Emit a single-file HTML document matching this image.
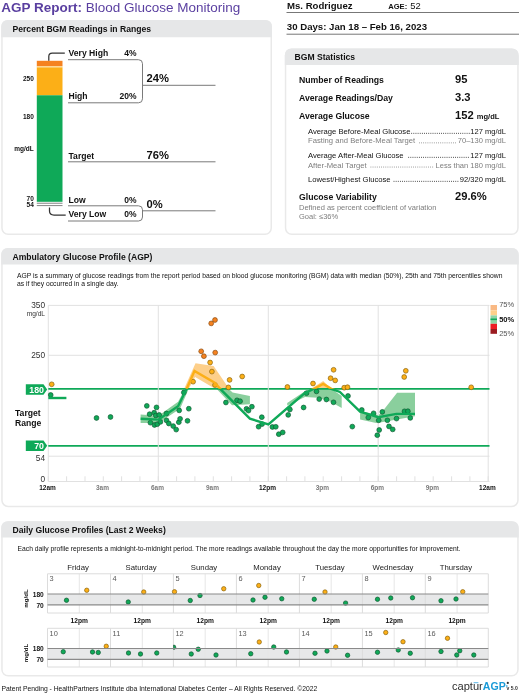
<!DOCTYPE html>
<html><head><meta charset="utf-8"><title>AGP Report</title>
<style>
html,body{margin:0;padding:0;background:#fff;}
body{width:520px;height:695px;overflow:hidden;}
svg{display:block;font-family:"Liberation Sans",Arial,sans-serif;}
.b{font-weight:bold}
</style></head><body>
<svg width="520" height="695" viewBox="0 0 520 695">

<text x="1.2" y="12" font-size="13.5" fill="#5a3fa0"><tspan class="b">AGP Report:</tspan> Blood Glucose Monitoring</text>
<rect x="1.95" y="20.75" width="269.3" height="213.5" rx="6.25" ry="6.25" fill="#fff" stroke="#e9e9e9" stroke-width="1.5"/><path d="M1.2,37.2 V27 Q1.2,20 8.2,20 H265 Q272,20 272,27 V37.2 Z" fill="#e6e7e8"/><text x="12.5" y="31.9" font-size="8.6" class="b" fill="#111">Percent BGM Readings in Ranges</text>
<rect x="36.8" y="60.8" width="25.7" height="5.4" fill="#f58220"/>
<rect x="36.8" y="66" width="25.7" height="2" fill="#fdd795"/><rect x="36.8" y="67.6" width="25.7" height="27.8" fill="#fcaf17"/>
<rect x="36.8" y="95.3" width="25.7" height="106.5" fill="#0fa958"/>
<rect x="36.8" y="202.7" width="25.7" height="1.1" fill="#8f8f8f"/>
<rect x="36.8" y="205" width="25.7" height="1.1" fill="#8f8f8f"/>
<text x="33.8" y="80.5" font-size="6.5" class="b" fill="#111" text-anchor="end">250</text>
<text x="33.8" y="118.8" font-size="6.5" class="b" fill="#111" text-anchor="end">180</text>
<text x="33.8" y="150.5" font-size="6.5" class="b" fill="#111" text-anchor="end">mg/dL</text>
<text x="33.8" y="200.6" font-size="6.5" class="b" fill="#111" text-anchor="end">70</text>
<text x="33.8" y="206.8" font-size="6.5" class="b" fill="#111" text-anchor="end">54</text>
<text x="68.5" y="55.5" font-size="8.6" class="b" fill="#111">Very High</text>
<text x="136.5" y="55.5" font-size="8.5" class="b" fill="#111" text-anchor="end">4%</text>
<text x="68.5" y="98.8" font-size="8.6" class="b" fill="#111">High</text>
<text x="136.5" y="98.8" font-size="8.5" class="b" fill="#111" text-anchor="end">20%</text>
<text x="68.5" y="158.8" font-size="8.6" class="b" fill="#111">Target</text>
<text x="68.5" y="202.5" font-size="8.6" class="b" fill="#111">Low</text>
<text x="136.5" y="202.5" font-size="8.5" class="b" fill="#111" text-anchor="end">0%</text>
<text x="68.5" y="217" font-size="8.6" class="b" fill="#111">Very Low</text>
<text x="136.5" y="217" font-size="8.5" class="b" fill="#111" text-anchor="end">0%</text>
<path d="M68,59.7 H138.5 Q142.5,59.7 142.5,63.7 V98.8 Q142.5,102.8 138.5,102.8 H68" stroke="#7a7a7a" stroke-width="1" fill="none"/>
<path d="M142.5,85.3 H215.5" stroke="#7a7a7a" stroke-width="1" fill="none"/>
<path d="M68,161.8 H215.5" stroke="#7a7a7a" stroke-width="1" fill="none"/>
<path d="M68,205.8 H138.5 Q142.5,205.8 142.5,209.8 V217 Q142.5,221 138.5,221 H68" stroke="#7a7a7a" stroke-width="1" fill="none"/>
<path d="M142.5,210.8 H215.5" stroke="#7a7a7a" stroke-width="1" fill="none"/>
<path d="M48.8,60.8 V56.5 Q48.8,53.2 52.2,53.2 H64.8" stroke="#333" stroke-width="1.25" fill="none"/>
<path d="M49.5,207.5 V211 Q49.5,215 54,215 H65.7" stroke="#333" stroke-width="1.25" fill="none"/>
<text x="146.5" y="81.8" font-size="11.2" class="b" fill="#111">24%</text>
<text x="146.5" y="158.6" font-size="11.2" class="b" fill="#111">76%</text>
<text x="146.5" y="207.5" font-size="11.2" class="b" fill="#111">0%</text>
<text x="287" y="9" font-size="9.6" class="b" fill="#111">Ms. Rodriguez</text>
<text x="388.2" y="9" font-size="7.6" class="b" fill="#111">AGE:</text>
<text x="410.2" y="9" font-size="9.4" fill="#111">52</text>
<rect x="286.5" y="12" width="232.5" height="1" fill="#777"/>
<text x="286.8" y="29.8" font-size="9.65" class="b" fill="#111">30 Days: Jan 18 – Feb 16, 2023</text>
<rect x="286.5" y="33.7" width="232.5" height="1" fill="#777"/>
<rect x="285.55" y="49.15" width="232.40000000000003" height="185.1" rx="6.25" ry="6.25" fill="#fff" stroke="#e9e9e9" stroke-width="1.5"/><path d="M284.8,65 V55.4 Q284.8,48.4 291.8,48.4 H511.70000000000005 Q518.7,48.4 518.7,55.4 V65 Z" fill="#e6e7e8"/><text x="294.5" y="59.7" font-size="8.6" class="b" fill="#111">BGM Statistics</text>
<text x="299" y="82.5" font-size="8.7" class="b" fill="#111">Number of Readings</text>
<text x="455" y="82.5" font-size="11.2" class="b" fill="#111">95</text>
<text x="299" y="101.1" font-size="8.7" class="b" fill="#111">Average Readings/Day</text>
<text x="455" y="101.1" font-size="11.2" class="b" fill="#111">3.3</text>
<text x="299" y="119.3" font-size="8.7" class="b" fill="#111">Average Glucose</text>
<text x="455" y="119.3" font-size="11.2" class="b" fill="#111">152</text>
<text x="299" y="200" font-size="8.7" class="b" fill="#111">Glucose Variability</text>
<text x="455" y="200" font-size="11.2" class="b" fill="#111">29.6%</text>
<text x="476.8" y="119.3" font-size="7.5" class="b" fill="#111">mg/dL</text>
<text x="308" y="133.8" font-size="7.67" fill="#111">Average Before-Meal Glucose</text><text x="506" y="133.8" font-size="7.55" fill="#111" text-anchor="end">127 mg/dL</text><line x1="411.3" y1="133.35000000000002" x2="470" y2="133.35000000000002" stroke="#111" stroke-width="0.9" stroke-dasharray="0.8 1.33"/>
<text x="308" y="143.3" font-size="7.67" fill="#7d7d7d">Fasting and Before-Meal Target</text><text x="506" y="143.3" font-size="7.55" fill="#7d7d7d" text-anchor="end">70–130 mg/dL</text><line x1="419" y1="142.85000000000002" x2="457.3" y2="142.85000000000002" stroke="#7d7d7d" stroke-width="0.9" stroke-dasharray="0.8 1.33"/>
<text x="308" y="157.8" font-size="7.67" fill="#111">Average After-Meal Glucose</text><text x="506" y="157.8" font-size="7.55" fill="#111" text-anchor="end">127 mg/dL</text><line x1="408.3" y1="157.35000000000002" x2="470" y2="157.35000000000002" stroke="#111" stroke-width="0.9" stroke-dasharray="0.8 1.33"/>
<text x="308" y="167.5" font-size="7.67" fill="#7d7d7d">After-Meal Target</text><text x="506" y="167.5" font-size="7.55" fill="#7d7d7d" text-anchor="end">Less than 180 mg/dL</text><line x1="370.5" y1="167.05" x2="433.5" y2="167.05" stroke="#7d7d7d" stroke-width="0.9" stroke-dasharray="0.8 1.33"/>
<text x="308" y="181.8" font-size="7.67" fill="#111">Lowest/Highest Glucose</text><text x="506" y="181.8" font-size="7.55" fill="#111" text-anchor="end">92/320 mg/dL</text><line x1="393.6" y1="181.35000000000002" x2="459.3" y2="181.35000000000002" stroke="#111" stroke-width="0.9" stroke-dasharray="0.8 1.33"/>
<text x="299" y="209.5" font-size="7.5" fill="#7d7d7d">Defined as percent coefficient of variation</text>
<text x="299" y="218.8" font-size="7.5" fill="#7d7d7d">Goal: ≤36%</text>
<rect x="1.95" y="248.85" width="516.0" height="257.6" rx="6.25" ry="6.25" fill="#fff" stroke="#e9e9e9" stroke-width="1.5"/><path d="M1.2,264.6 V255.1 Q1.2,248.1 8.2,248.1 H511.70000000000005 Q518.7,248.1 518.7,255.1 V264.6 Z" fill="#e6e7e8"/><text x="12.5" y="260" font-size="8.6" class="b" fill="#111">Ambulatory Glucose Profile (AGP)</text>
<text x="17" y="277.5" font-size="6.76" fill="#111">AGP is a summary of glucose readings from the report period based on blood glucose monitoring (BGM) data with median (50%), 25th and 75th percentiles shown</text>
<text x="17" y="286.3" font-size="6.76" fill="#111">as if they occurred in a single day.</text>
<path d="M48.3,305.4 H489.5" stroke="#e1e1e1" stroke-width="1" fill="none"/>
<path d="M48.3,355.3 H489.5" stroke="#e1e1e1" stroke-width="1" fill="none"/>
<path d="M48.3,456.2 H489.5" stroke="#e1e1e1" stroke-width="1" fill="none"/>
<path d="M48.3,305.4 V481.5" stroke="#e1e1e1" stroke-width="1" fill="none"/>
<path d="M158.3,305.4 V481.5" stroke="#e1e1e1" stroke-width="1" fill="none"/>
<path d="M268.3,305.4 V481.5" stroke="#e1e1e1" stroke-width="1" fill="none"/>
<path d="M378.2,305.4 V481.5" stroke="#e1e1e1" stroke-width="1" fill="none"/>
<path d="M488.2,305.4 V481.5" stroke="#e1e1e1" stroke-width="1" fill="none"/>
<path d="M48.3,481.5 H489.5" stroke="#e1e1e1" stroke-width="1" fill="none"/>
<path d="M48.3,476.3 V481.5" stroke="#e1e1e1" stroke-width="1" fill="none"/>
<path d="M66.6,476.3 V481.5" stroke="#e1e1e1" stroke-width="1" fill="none"/>
<path d="M85.0,476.3 V481.5" stroke="#e1e1e1" stroke-width="1" fill="none"/>
<path d="M103.3,476.3 V481.5" stroke="#e1e1e1" stroke-width="1" fill="none"/>
<path d="M121.6,476.3 V481.5" stroke="#e1e1e1" stroke-width="1" fill="none"/>
<path d="M139.9,476.3 V481.5" stroke="#e1e1e1" stroke-width="1" fill="none"/>
<path d="M158.3,476.3 V481.5" stroke="#e1e1e1" stroke-width="1" fill="none"/>
<path d="M176.6,476.3 V481.5" stroke="#e1e1e1" stroke-width="1" fill="none"/>
<path d="M194.9,476.3 V481.5" stroke="#e1e1e1" stroke-width="1" fill="none"/>
<path d="M213.3,476.3 V481.5" stroke="#e1e1e1" stroke-width="1" fill="none"/>
<path d="M231.6,476.3 V481.5" stroke="#e1e1e1" stroke-width="1" fill="none"/>
<path d="M249.9,476.3 V481.5" stroke="#e1e1e1" stroke-width="1" fill="none"/>
<path d="M268.3,476.3 V481.5" stroke="#e1e1e1" stroke-width="1" fill="none"/>
<path d="M286.6,476.3 V481.5" stroke="#e1e1e1" stroke-width="1" fill="none"/>
<path d="M304.9,476.3 V481.5" stroke="#e1e1e1" stroke-width="1" fill="none"/>
<path d="M323.2,476.3 V481.5" stroke="#e1e1e1" stroke-width="1" fill="none"/>
<path d="M341.6,476.3 V481.5" stroke="#e1e1e1" stroke-width="1" fill="none"/>
<path d="M359.9,476.3 V481.5" stroke="#e1e1e1" stroke-width="1" fill="none"/>
<path d="M378.2,476.3 V481.5" stroke="#e1e1e1" stroke-width="1" fill="none"/>
<path d="M396.6,476.3 V481.5" stroke="#e1e1e1" stroke-width="1" fill="none"/>
<path d="M414.9,476.3 V481.5" stroke="#e1e1e1" stroke-width="1" fill="none"/>
<path d="M433.2,476.3 V481.5" stroke="#e1e1e1" stroke-width="1" fill="none"/>
<path d="M451.6,476.3 V481.5" stroke="#e1e1e1" stroke-width="1" fill="none"/>
<path d="M469.9,476.3 V481.5" stroke="#e1e1e1" stroke-width="1" fill="none"/>
<path d="M488.2,476.3 V481.5" stroke="#e1e1e1" stroke-width="1" fill="none"/>
<text x="45" y="308.3" font-size="8.3" fill="#333" text-anchor="end">350</text>
<text x="45" y="358.2" font-size="8.3" fill="#333" text-anchor="end">250</text>
<text x="45" y="461.3" font-size="8.3" fill="#333" text-anchor="end">54</text>
<text x="45" y="482.2" font-size="8.3" fill="#333" text-anchor="end">0</text>
<text x="45" y="316.1" font-size="6.6" fill="#333" text-anchor="end">mg/dL</text>
<text x="47.5" y="490.3" font-size="6.5" text-anchor="middle" fill="#111" class="b">12am</text>
<text x="102.5" y="490.3" font-size="6.5" text-anchor="middle" fill="#7a7a7a" class="b">3am</text>
<text x="157.5" y="490.3" font-size="6.5" text-anchor="middle" fill="#7a7a7a" class="b">6am</text>
<text x="212.5" y="490.3" font-size="6.5" text-anchor="middle" fill="#7a7a7a" class="b">9am</text>
<text x="267.5" y="490.3" font-size="6.5" text-anchor="middle" fill="#111" class="b">12pm</text>
<text x="322.4" y="490.3" font-size="6.5" text-anchor="middle" fill="#7a7a7a" class="b">3pm</text>
<text x="377.4" y="490.3" font-size="6.5" text-anchor="middle" fill="#7a7a7a" class="b">6pm</text>
<text x="432.4" y="490.3" font-size="6.5" text-anchor="middle" fill="#7a7a7a" class="b">9pm</text>
<text x="487.4" y="490.3" font-size="6.5" text-anchor="middle" fill="#111" class="b">12am</text>
<path d="M140.6,414.4 L158.5,415.8 L178.1,401.7 L185,388.8 L188.8,388.8 L180,408.8 L158.5,423 L140.6,423 Z" fill="#8acf9d"/>
<path d="M216.5,388.8 L228.6,388.8 L232.6,392.6 L249.9,396.1 L249.9,404.2 L232,405.3 Z" fill="#8acf9d"/>
<path d="M287.2,403 L304.5,391.5 L311,388.8 L331.3,388.8 L341.7,396 L341.7,408.1 L330.7,401.8 L318,397.7 L305,396.9 L287.2,405.5 Z" fill="#8acf9d"/>
<path d="M360.1,411 L378.3,415 L381.2,412.9 L397.1,392.7 L415,392.7 L415,416.3 L381.6,422.3 L376.2,423 L360.1,419.4 Z" fill="#8acf9d"/>
<path d="M184.2,388.8 L195.5,363.2 L213.6,366.1 L227.4,386.3 L228.6,388.8 L216.5,388.8 L213,387.4 L195.1,377 L188.8,388.8 Z" fill="#fdcf8a"/>
<path d="M311,388.8 L323.2,381 L331.3,388.8 Z" fill="#fdcf8a"/>
<path d="M48.3,388.8 H489.5" stroke="#0fa958" stroke-width="1.7" fill="none"/>
<path d="M48.3,445.8 H489.5" stroke="#0fa958" stroke-width="1.7" fill="none"/>
<path d="M158.3,386 V449" stroke="#e1e1e1" stroke-width="1" fill="none"/>
<path d="M268.3,386 V449" stroke="#e1e1e1" stroke-width="1" fill="none"/>
<path d="M378.2,386 V449" stroke="#e1e1e1" stroke-width="1" fill="none"/>
<path d="M25.8,384.3 H43.5 L47.2,389.5 L43.5,394.7 H25.8 Z" fill="#0fa958"/>
<text x="44" y="392.7" font-size="8.8" class="b" fill="#fff" text-anchor="end">180</text>
<path d="M25.8,440.5 H43.5 L47.2,445.7 L43.5,450.9 H25.8 Z" fill="#0fa958"/>
<text x="44" y="448.9" font-size="8.8" class="b" fill="#fff" text-anchor="end">70</text>
<text x="15" y="416" font-size="8.6" class="b" fill="#111">Target</text>
<text x="15" y="426.3" font-size="8.6" class="b" fill="#111">Range</text>
<circle cx="215" cy="320" r="2.4" fill="#f58220" stroke="#8a4a10" stroke-width="0.7"/>
<circle cx="211.2" cy="323.4" r="2.4" fill="#f58220" stroke="#8a4a10" stroke-width="0.7"/>
<circle cx="201.2" cy="351.3" r="2.4" fill="#f58220" stroke="#8a4a10" stroke-width="0.7"/>
<circle cx="203.9" cy="356.2" r="2.4" fill="#f58220" stroke="#8a4a10" stroke-width="0.7"/>
<circle cx="215.2" cy="352.6" r="2.4" fill="#f58220" stroke="#8a4a10" stroke-width="0.7"/>
<circle cx="210.1" cy="362.5" r="2.4" fill="#fcaf17" stroke="#8a6410" stroke-width="0.7"/>
<circle cx="211.9" cy="371.6" r="2.4" fill="#fcaf17" stroke="#8a6410" stroke-width="0.7"/>
<circle cx="193.1" cy="381.7" r="2.4" fill="#fcaf17" stroke="#8a6410" stroke-width="0.7"/>
<circle cx="215" cy="385" r="2.4" fill="#fcaf17" stroke="#8a6410" stroke-width="0.7"/>
<circle cx="229.6" cy="379.9" r="2.4" fill="#fcaf17" stroke="#8a6410" stroke-width="0.7"/>
<circle cx="228.4" cy="387.4" r="2.4" fill="#fcaf17" stroke="#8a6410" stroke-width="0.7"/>
<circle cx="242.2" cy="376.5" r="2.4" fill="#fcaf17" stroke="#8a6410" stroke-width="0.7"/>
<circle cx="51.7" cy="384.3" r="2.4" fill="#fcaf17" stroke="#8a6410" stroke-width="0.7"/>
<circle cx="287.4" cy="387" r="2.4" fill="#fcaf17" stroke="#8a6410" stroke-width="0.7"/>
<circle cx="313" cy="383.5" r="2.4" fill="#fcaf17" stroke="#8a6410" stroke-width="0.7"/>
<circle cx="333.6" cy="369.8" r="2.4" fill="#fcaf17" stroke="#8a6410" stroke-width="0.7"/>
<circle cx="330.6" cy="378.2" r="2.4" fill="#fcaf17" stroke="#8a6410" stroke-width="0.7"/>
<circle cx="335.2" cy="380.4" r="2.4" fill="#fcaf17" stroke="#8a6410" stroke-width="0.7"/>
<circle cx="344.2" cy="387.7" r="2.4" fill="#fcaf17" stroke="#8a6410" stroke-width="0.7"/>
<circle cx="347.5" cy="387.2" r="2.4" fill="#fcaf17" stroke="#8a6410" stroke-width="0.7"/>
<circle cx="405.8" cy="370.8" r="2.4" fill="#fcaf17" stroke="#8a6410" stroke-width="0.7"/>
<circle cx="404.2" cy="377" r="2.4" fill="#fcaf17" stroke="#8a6410" stroke-width="0.7"/>
<circle cx="471.2" cy="387.3" r="2.4" fill="#fcaf17" stroke="#8a6410" stroke-width="0.7"/>
<circle cx="50.7" cy="395" r="2.4" fill="#0fa958" stroke="#125a33" stroke-width="0.7"/>
<circle cx="96.5" cy="418" r="2.4" fill="#0fa958" stroke="#125a33" stroke-width="0.7"/>
<circle cx="110.5" cy="417" r="2.4" fill="#0fa958" stroke="#125a33" stroke-width="0.7"/>
<circle cx="146.8" cy="405.9" r="2.4" fill="#0fa958" stroke="#125a33" stroke-width="0.7"/>
<circle cx="156.5" cy="407.4" r="2.4" fill="#0fa958" stroke="#125a33" stroke-width="0.7"/>
<circle cx="149.6" cy="414.2" r="2.4" fill="#0fa958" stroke="#125a33" stroke-width="0.7"/>
<circle cx="154.2" cy="412.7" r="2.4" fill="#0fa958" stroke="#125a33" stroke-width="0.7"/>
<circle cx="155.8" cy="415.5" r="2.4" fill="#0fa958" stroke="#125a33" stroke-width="0.7"/>
<circle cx="159.2" cy="415" r="2.4" fill="#0fa958" stroke="#125a33" stroke-width="0.7"/>
<circle cx="150.4" cy="422.7" r="2.4" fill="#0fa958" stroke="#125a33" stroke-width="0.7"/>
<circle cx="154.5" cy="425" r="2.4" fill="#0fa958" stroke="#125a33" stroke-width="0.7"/>
<circle cx="157.3" cy="424.2" r="2.4" fill="#0fa958" stroke="#125a33" stroke-width="0.7"/>
<circle cx="160.4" cy="421.9" r="2.4" fill="#0fa958" stroke="#125a33" stroke-width="0.7"/>
<circle cx="166.5" cy="413.5" r="2.4" fill="#0fa958" stroke="#125a33" stroke-width="0.7"/>
<circle cx="166.5" cy="420.4" r="2.4" fill="#0fa958" stroke="#125a33" stroke-width="0.7"/>
<circle cx="168.8" cy="423.5" r="2.4" fill="#0fa958" stroke="#125a33" stroke-width="0.7"/>
<circle cx="173.2" cy="426.1" r="2.4" fill="#0fa958" stroke="#125a33" stroke-width="0.7"/>
<circle cx="176.2" cy="429.6" r="2.4" fill="#0fa958" stroke="#125a33" stroke-width="0.7"/>
<circle cx="178.8" cy="422.2" r="2.4" fill="#0fa958" stroke="#125a33" stroke-width="0.7"/>
<circle cx="180.1" cy="418.8" r="2.4" fill="#0fa958" stroke="#125a33" stroke-width="0.7"/>
<circle cx="179.2" cy="410.4" r="2.4" fill="#0fa958" stroke="#125a33" stroke-width="0.7"/>
<circle cx="188.8" cy="408.7" r="2.4" fill="#0fa958" stroke="#125a33" stroke-width="0.7"/>
<circle cx="187.5" cy="420.8" r="2.4" fill="#0fa958" stroke="#125a33" stroke-width="0.7"/>
<circle cx="183.8" cy="392.5" r="2.4" fill="#0fa958" stroke="#125a33" stroke-width="0.7"/>
<circle cx="225.9" cy="402.5" r="2.4" fill="#0fa958" stroke="#125a33" stroke-width="0.7"/>
<circle cx="237" cy="400.3" r="2.4" fill="#0fa958" stroke="#125a33" stroke-width="0.7"/>
<circle cx="240.1" cy="401.2" r="2.4" fill="#0fa958" stroke="#125a33" stroke-width="0.7"/>
<circle cx="246.5" cy="408.8" r="2.4" fill="#0fa958" stroke="#125a33" stroke-width="0.7"/>
<circle cx="248.5" cy="410.6" r="2.4" fill="#0fa958" stroke="#125a33" stroke-width="0.7"/>
<circle cx="251.9" cy="406.7" r="2.4" fill="#0fa958" stroke="#125a33" stroke-width="0.7"/>
<circle cx="261.8" cy="417.2" r="2.4" fill="#0fa958" stroke="#125a33" stroke-width="0.7"/>
<circle cx="258.6" cy="426.7" r="2.4" fill="#0fa958" stroke="#125a33" stroke-width="0.7"/>
<circle cx="262.1" cy="424.1" r="2.4" fill="#0fa958" stroke="#125a33" stroke-width="0.7"/>
<circle cx="272.4" cy="427" r="2.4" fill="#0fa958" stroke="#125a33" stroke-width="0.7"/>
<circle cx="275.8" cy="426.8" r="2.4" fill="#0fa958" stroke="#125a33" stroke-width="0.7"/>
<circle cx="278.8" cy="434.2" r="2.4" fill="#0fa958" stroke="#125a33" stroke-width="0.7"/>
<circle cx="282.7" cy="432.4" r="2.4" fill="#0fa958" stroke="#125a33" stroke-width="0.7"/>
<circle cx="288.2" cy="414.9" r="2.4" fill="#0fa958" stroke="#125a33" stroke-width="0.7"/>
<circle cx="289.9" cy="409.5" r="2.4" fill="#0fa958" stroke="#125a33" stroke-width="0.7"/>
<circle cx="303.6" cy="407.5" r="2.4" fill="#0fa958" stroke="#125a33" stroke-width="0.7"/>
<circle cx="306.5" cy="393.2" r="2.4" fill="#0fa958" stroke="#125a33" stroke-width="0.7"/>
<circle cx="316.5" cy="391.4" r="2.4" fill="#0fa958" stroke="#125a33" stroke-width="0.7"/>
<circle cx="319.2" cy="399.1" r="2.4" fill="#0fa958" stroke="#125a33" stroke-width="0.7"/>
<circle cx="326.4" cy="399.5" r="2.4" fill="#0fa958" stroke="#125a33" stroke-width="0.7"/>
<circle cx="333.5" cy="402.3" r="2.4" fill="#0fa958" stroke="#125a33" stroke-width="0.7"/>
<circle cx="348" cy="396" r="2.4" fill="#0fa958" stroke="#125a33" stroke-width="0.7"/>
<circle cx="361.8" cy="410" r="2.4" fill="#0fa958" stroke="#125a33" stroke-width="0.7"/>
<circle cx="352.3" cy="426.6" r="2.4" fill="#0fa958" stroke="#125a33" stroke-width="0.7"/>
<circle cx="368.3" cy="417.5" r="2.4" fill="#0fa958" stroke="#125a33" stroke-width="0.7"/>
<circle cx="373.6" cy="413.3" r="2.4" fill="#0fa958" stroke="#125a33" stroke-width="0.7"/>
<circle cx="378.7" cy="420.3" r="2.4" fill="#0fa958" stroke="#125a33" stroke-width="0.7"/>
<circle cx="382.3" cy="411.9" r="2.4" fill="#0fa958" stroke="#125a33" stroke-width="0.7"/>
<circle cx="387.4" cy="420.3" r="2.4" fill="#0fa958" stroke="#125a33" stroke-width="0.7"/>
<circle cx="379.2" cy="430" r="2.4" fill="#0fa958" stroke="#125a33" stroke-width="0.7"/>
<circle cx="377.3" cy="435.2" r="2.4" fill="#0fa958" stroke="#125a33" stroke-width="0.7"/>
<circle cx="389" cy="426.4" r="2.4" fill="#0fa958" stroke="#125a33" stroke-width="0.7"/>
<circle cx="392.7" cy="429.4" r="2.4" fill="#0fa958" stroke="#125a33" stroke-width="0.7"/>
<circle cx="396.5" cy="418.6" r="2.4" fill="#0fa958" stroke="#125a33" stroke-width="0.7"/>
<circle cx="404.5" cy="411.3" r="2.4" fill="#0fa958" stroke="#125a33" stroke-width="0.7"/>
<circle cx="407.9" cy="411.2" r="2.4" fill="#0fa958" stroke="#125a33" stroke-width="0.7"/>
<circle cx="410.3" cy="417.9" r="2.4" fill="#0fa958" stroke="#125a33" stroke-width="0.7"/>
<path d="M48.3,398 H66.4" stroke="#0fa958" stroke-width="2.4" fill="none" stroke-linejoin="miter" stroke-linecap="butt"/>
<clipPath id="cb"><rect x="40" y="388.8" width="460" height="100"/></clipPath><clipPath id="ca"><rect x="40" y="300" width="460" height="88.8"/></clipPath>
<path d="M140.6,418.8 L158.5,419.6 L178.1,406.3 L186.7,388.8 L194.5,370.9 L214.7,382.8 L220.2,388.8 L249.9,418.6 L268.4,424.4 L304.5,393.3 L314,388.8 L323.2,383.9 L331.3,388.8 L339.9,392 L360.1,411.6 L378.3,417.2 L396.4,413.9 L415,413.9" stroke="#0fa958" stroke-width="2.4" fill="none" stroke-linejoin="miter" stroke-linecap="butt" clip-path="url(#cb)"/>
<path d="M140.6,418.8 L158.5,419.6 L178.1,406.3 L186.7,388.8 L194.5,370.9 L214.7,382.8 L220.2,388.8 L249.9,418.6 L268.4,424.4 L304.5,393.3 L314,388.8 L323.2,383.9 L331.3,388.8 L339.9,392 L360.1,411.6 L378.3,417.2 L396.4,413.9 L415,413.9" stroke="#fcaf17" stroke-width="2.4" fill="none" stroke-linejoin="miter" stroke-linecap="butt" clip-path="url(#ca)"/>
<rect x="490.5" y="305" width="6.5" height="5.3" fill="#f9b984"/>
<rect x="490.5" y="310.3" width="6.5" height="5.1" fill="#fdd08a"/>
<rect x="490.5" y="315.4" width="6.5" height="8.4" fill="#8fd4a5"/>
<rect x="490.5" y="318.5" width="6.5" height="1.6" fill="#0fa958"/>
<rect x="490.5" y="323.8" width="6.5" height="5.2" fill="#ed1c24"/>
<rect x="490.5" y="329" width="6.5" height="4.8" fill="#9b1b21"/>
<text x="499.2" y="307.2" font-size="7.5" fill="#555">75%</text>
<text x="499.2" y="322.3" font-size="7.5" class="b" fill="#111">50%</text>
<text x="499.2" y="335.7" font-size="7.5" fill="#555">25%</text>
<rect x="1.95" y="521.95" width="516.0" height="153.79999999999995" rx="6.25" ry="6.25" fill="#fff" stroke="#e9e9e9" stroke-width="1.5"/><path d="M1.2,537.6 V528.2 Q1.2,521.2 8.2,521.2 H511.70000000000005 Q518.7,521.2 518.7,528.2 V537.6 Z" fill="#e6e7e8"/><text x="12.6" y="533.1" font-size="8.6" class="b" fill="#111">Daily Glucose Profiles (Last 2 Weeks)</text>
<text x="17.5" y="550.5" font-size="6.76" fill="#111">Each daily profile represents a midnight-to-midnight period. The more readings available throughout the day the more opportunities for improvement.</text>
<text x="78.1" y="570.3" font-size="7.75" fill="#222" text-anchor="middle">Friday</text>
<text x="141.1" y="570.3" font-size="7.75" fill="#222" text-anchor="middle">Saturday</text>
<text x="204.0" y="570.3" font-size="7.75" fill="#222" text-anchor="middle">Sunday</text>
<text x="267.0" y="570.3" font-size="7.75" fill="#222" text-anchor="middle">Monday</text>
<text x="330.0" y="570.3" font-size="7.75" fill="#222" text-anchor="middle">Tuesday</text>
<text x="393.0" y="570.3" font-size="7.75" fill="#222" text-anchor="middle">Wednesday</text>
<text x="455.9" y="570.3" font-size="7.75" fill="#222" text-anchor="middle">Thursday</text>
<rect x="47.5" y="594" width="440.8" height="10.799999999999955" fill="#e7e8e9"/><path d="M47.5,573.8 V613" stroke="#dcdcdc" stroke-width="1" fill="none"/><path d="M79.3,573.8 V613" stroke="#e6e6e6" stroke-width="1" fill="none"/><text x="49.6" y="581.4" font-size="7.4" fill="#5a5a5a">3</text><path d="M110.5,573.8 V613" stroke="#dcdcdc" stroke-width="1" fill="none"/><path d="M142.3,573.8 V613" stroke="#e6e6e6" stroke-width="1" fill="none"/><text x="112.6" y="581.4" font-size="7.4" fill="#5a5a5a">4</text><path d="M173.4,573.8 V613" stroke="#dcdcdc" stroke-width="1" fill="none"/><path d="M205.2,573.8 V613" stroke="#e6e6e6" stroke-width="1" fill="none"/><text x="175.5" y="581.4" font-size="7.4" fill="#5a5a5a">5</text><path d="M236.4,573.8 V613" stroke="#dcdcdc" stroke-width="1" fill="none"/><path d="M268.2,573.8 V613" stroke="#e6e6e6" stroke-width="1" fill="none"/><text x="238.5" y="581.4" font-size="7.4" fill="#5a5a5a">6</text><path d="M299.4,573.8 V613" stroke="#dcdcdc" stroke-width="1" fill="none"/><path d="M331.2,573.8 V613" stroke="#e6e6e6" stroke-width="1" fill="none"/><text x="301.5" y="581.4" font-size="7.4" fill="#5a5a5a">7</text><path d="M362.4,573.8 V613" stroke="#dcdcdc" stroke-width="1" fill="none"/><path d="M394.2,573.8 V613" stroke="#e6e6e6" stroke-width="1" fill="none"/><text x="364.5" y="581.4" font-size="7.4" fill="#5a5a5a">8</text><path d="M425.3,573.8 V613" stroke="#dcdcdc" stroke-width="1" fill="none"/><path d="M457.1,573.8 V613" stroke="#e6e6e6" stroke-width="1" fill="none"/><text x="427.4" y="581.4" font-size="7.4" fill="#5a5a5a">9</text><path d="M488.3,573.8 V613" stroke="#dcdcdc" stroke-width="1" fill="none"/><path d="M47.5,573.8 H488.3 M47.5,613 H488.3" stroke="#dcdcdc" stroke-width="1" fill="none"/><circle cx="86.75" cy="590.25" r="2.2" fill="#fcaf17" stroke="#8a6410" stroke-width="0.7"/><circle cx="66.5" cy="600.25" r="2.2" fill="#0fa958" stroke="#125a33" stroke-width="0.7"/><circle cx="128.25" cy="602" r="2.2" fill="#0fa958" stroke="#125a33" stroke-width="0.7"/><circle cx="143.75" cy="592" r="2.2" fill="#fcaf17" stroke="#8a6410" stroke-width="0.7"/><circle cx="174.5" cy="591.75" r="2.2" fill="#fcaf17" stroke="#8a6410" stroke-width="0.7"/><circle cx="190.25" cy="600.5" r="2.2" fill="#0fa958" stroke="#125a33" stroke-width="0.7"/><circle cx="200" cy="595.5" r="2.2" fill="#0fa958" stroke="#125a33" stroke-width="0.7"/><circle cx="223.75" cy="588.75" r="2.2" fill="#fcaf17" stroke="#8a6410" stroke-width="0.7"/><circle cx="258.75" cy="585.5" r="2.2" fill="#fcaf17" stroke="#8a6410" stroke-width="0.7"/><circle cx="253" cy="600" r="2.2" fill="#0fa958" stroke="#125a33" stroke-width="0.7"/><circle cx="265" cy="597.25" r="2.2" fill="#0fa958" stroke="#125a33" stroke-width="0.7"/><circle cx="281.75" cy="598.75" r="2.2" fill="#0fa958" stroke="#125a33" stroke-width="0.7"/><circle cx="314.25" cy="599.25" r="2.2" fill="#0fa958" stroke="#125a33" stroke-width="0.7"/><circle cx="325" cy="592" r="2.2" fill="#fcaf17" stroke="#8a6410" stroke-width="0.7"/><circle cx="345.6" cy="603.1" r="2.2" fill="#0fa958" stroke="#125a33" stroke-width="0.7"/><circle cx="377.5" cy="599.25" r="2.2" fill="#0fa958" stroke="#125a33" stroke-width="0.7"/><circle cx="390.75" cy="598" r="2.2" fill="#0fa958" stroke="#125a33" stroke-width="0.7"/><circle cx="412.5" cy="597.75" r="2.2" fill="#0fa958" stroke="#125a33" stroke-width="0.7"/><circle cx="441" cy="600.75" r="2.2" fill="#0fa958" stroke="#125a33" stroke-width="0.7"/><circle cx="456" cy="599" r="2.2" fill="#0fa958" stroke="#125a33" stroke-width="0.7"/><circle cx="462.75" cy="591.75" r="2.2" fill="#fcaf17" stroke="#8a6410" stroke-width="0.7"/><path d="M47.5,594 H488.3 M47.5,604.8 H488.3" stroke="#8a8a8a" stroke-width="1.2" fill="none"/><text x="43.8" y="596.5" font-size="6.6" class="b" fill="#111" text-anchor="end">180</text><text x="43.8" y="607.5999999999999" font-size="6.6" class="b" fill="#111" text-anchor="end">70</text><text transform="translate(28.4,598.4) rotate(-90)" font-size="6.2" class="b" fill="#111" text-anchor="middle">mg/dL</text>
<text x="79.3" y="623" font-size="6.65" class="b" fill="#111" text-anchor="middle">12pm</text>
<text x="142.3" y="623" font-size="6.65" class="b" fill="#111" text-anchor="middle">12pm</text>
<text x="205.2" y="623" font-size="6.65" class="b" fill="#111" text-anchor="middle">12pm</text>
<text x="268.2" y="623" font-size="6.65" class="b" fill="#111" text-anchor="middle">12pm</text>
<text x="331.2" y="623" font-size="6.65" class="b" fill="#111" text-anchor="middle">12pm</text>
<text x="394.2" y="623" font-size="6.65" class="b" fill="#111" text-anchor="middle">12pm</text>
<text x="457.1" y="623" font-size="6.65" class="b" fill="#111" text-anchor="middle">12pm</text>
<rect x="47.5" y="648.5" width="440.8" height="10.899999999999977" fill="#e7e8e9"/><path d="M47.5,628.3 V667" stroke="#dcdcdc" stroke-width="1" fill="none"/><path d="M79.3,628.3 V667" stroke="#e6e6e6" stroke-width="1" fill="none"/><text x="49.6" y="635.9" font-size="7.4" fill="#5a5a5a">10</text><path d="M110.5,628.3 V667" stroke="#dcdcdc" stroke-width="1" fill="none"/><path d="M142.3,628.3 V667" stroke="#e6e6e6" stroke-width="1" fill="none"/><text x="112.6" y="635.9" font-size="7.4" fill="#5a5a5a">11</text><path d="M173.4,628.3 V667" stroke="#dcdcdc" stroke-width="1" fill="none"/><path d="M205.2,628.3 V667" stroke="#e6e6e6" stroke-width="1" fill="none"/><text x="175.5" y="635.9" font-size="7.4" fill="#5a5a5a">12</text><path d="M236.4,628.3 V667" stroke="#dcdcdc" stroke-width="1" fill="none"/><path d="M268.2,628.3 V667" stroke="#e6e6e6" stroke-width="1" fill="none"/><text x="238.5" y="635.9" font-size="7.4" fill="#5a5a5a">13</text><path d="M299.4,628.3 V667" stroke="#dcdcdc" stroke-width="1" fill="none"/><path d="M331.2,628.3 V667" stroke="#e6e6e6" stroke-width="1" fill="none"/><text x="301.5" y="635.9" font-size="7.4" fill="#5a5a5a">14</text><path d="M362.4,628.3 V667" stroke="#dcdcdc" stroke-width="1" fill="none"/><path d="M394.2,628.3 V667" stroke="#e6e6e6" stroke-width="1" fill="none"/><text x="364.5" y="635.9" font-size="7.4" fill="#5a5a5a">15</text><path d="M425.3,628.3 V667" stroke="#dcdcdc" stroke-width="1" fill="none"/><path d="M457.1,628.3 V667" stroke="#e6e6e6" stroke-width="1" fill="none"/><text x="427.4" y="635.9" font-size="7.4" fill="#5a5a5a">16</text><path d="M488.3,628.3 V667" stroke="#dcdcdc" stroke-width="1" fill="none"/><path d="M47.5,628.3 H488.3 M47.5,667 H488.3" stroke="#dcdcdc" stroke-width="1" fill="none"/><circle cx="63.25" cy="651.75" r="2.2" fill="#0fa958" stroke="#125a33" stroke-width="0.7"/><circle cx="92.5" cy="652" r="2.2" fill="#0fa958" stroke="#125a33" stroke-width="0.7"/><circle cx="98.25" cy="652.5" r="2.2" fill="#0fa958" stroke="#125a33" stroke-width="0.7"/><circle cx="106.25" cy="646.25" r="2.2" fill="#fcaf17" stroke="#8a6410" stroke-width="0.7"/><circle cx="128.5" cy="653" r="2.2" fill="#0fa958" stroke="#125a33" stroke-width="0.7"/><circle cx="140.5" cy="654" r="2.2" fill="#0fa958" stroke="#125a33" stroke-width="0.7"/><circle cx="156.75" cy="653" r="2.2" fill="#0fa958" stroke="#125a33" stroke-width="0.7"/><circle cx="191.25" cy="654" r="2.2" fill="#0fa958" stroke="#125a33" stroke-width="0.7"/><circle cx="198.25" cy="649.25" r="2.2" fill="#0fa958" stroke="#125a33" stroke-width="0.7"/><circle cx="216" cy="655" r="2.2" fill="#0fa958" stroke="#125a33" stroke-width="0.7"/><circle cx="259.25" cy="642" r="2.2" fill="#fcaf17" stroke="#8a6410" stroke-width="0.7"/><circle cx="250.75" cy="653.75" r="2.2" fill="#0fa958" stroke="#125a33" stroke-width="0.7"/><circle cx="273.75" cy="647" r="2.2" fill="#0fa958" stroke="#125a33" stroke-width="0.7"/><circle cx="286.5" cy="652" r="2.2" fill="#0fa958" stroke="#125a33" stroke-width="0.7"/><circle cx="315" cy="653.25" r="2.2" fill="#0fa958" stroke="#125a33" stroke-width="0.7"/><circle cx="327" cy="651" r="2.2" fill="#0fa958" stroke="#125a33" stroke-width="0.7"/><circle cx="335.75" cy="647" r="2.2" fill="#fcaf17" stroke="#8a6410" stroke-width="0.7"/><circle cx="347.6" cy="655.25" r="2.2" fill="#0fa958" stroke="#125a33" stroke-width="0.7"/><circle cx="385.75" cy="632.5" r="2.2" fill="#fcaf17" stroke="#8a6410" stroke-width="0.7"/><circle cx="403" cy="641.75" r="2.2" fill="#fcaf17" stroke="#8a6410" stroke-width="0.7"/><circle cx="377.5" cy="652.25" r="2.2" fill="#0fa958" stroke="#125a33" stroke-width="0.7"/><circle cx="398.25" cy="650" r="2.2" fill="#0fa958" stroke="#125a33" stroke-width="0.7"/><circle cx="410.25" cy="653.25" r="2.2" fill="#0fa958" stroke="#125a33" stroke-width="0.7"/><circle cx="447.5" cy="638.25" r="2.2" fill="#fcaf17" stroke="#8a6410" stroke-width="0.7"/><circle cx="441" cy="651.5" r="2.2" fill="#0fa958" stroke="#125a33" stroke-width="0.7"/><circle cx="459.75" cy="650.75" r="2.2" fill="#0fa958" stroke="#125a33" stroke-width="0.7"/><circle cx="456.75" cy="655" r="2.2" fill="#0fa958" stroke="#125a33" stroke-width="0.7"/><circle cx="473.8" cy="655" r="2.2" fill="#0fa958" stroke="#125a33" stroke-width="0.7"/><path d="M47.5,648.5 H488.3 M47.5,659.4 H488.3" stroke="#8a8a8a" stroke-width="1.2" fill="none"/><text x="43.8" y="651.0" font-size="6.6" class="b" fill="#111" text-anchor="end">180</text><text x="43.8" y="662.1999999999999" font-size="6.6" class="b" fill="#111" text-anchor="end">70</text><text transform="translate(28.4,652.95) rotate(-90)" font-size="6.2" class="b" fill="#111" text-anchor="middle">mg/dL</text>
<path d="M173.6,645 A2.2,2.2 0 0 1 173.6,649.4 Z" fill="#0fa958" stroke="#125a33" stroke-width="0.7"/>
<path d="M173,648.5 H177" stroke="#8a8a8a" stroke-width="1.2" fill="none"/>
<text x="1.5" y="691.4" font-size="6.76" fill="#111">Patent Pending - HealthPartners Institute dba International Diabetes Center – All Rights Reserved. ©2022</text>
<text x="451.9" y="690.1" font-size="11.8" fill="#2e2e2e" textLength="30.9" lengthAdjust="spacingAndGlyphs">captūr</text>
<rect x="472.6" y="680.8" width="7" height="2.6" fill="#fff"/><rect x="473.6" y="682.2" width="4.8" height="1" fill="#5ab5e6"/>
<text x="482.8" y="690.2" font-size="10.75" class="b" fill="#1b9ad7" textLength="22.9" lengthAdjust="spacingAndGlyphs">AGP</text>
<circle cx="507.8" cy="682.9" r="1.1" fill="#2e2e2e"/><circle cx="506.8" cy="686" r="0.9" fill="#5ab5e6"/>
<text x="506.6" y="690.2" font-size="4.8" class="b" fill="#2e2e2e" textLength="11.2" lengthAdjust="spacingAndGlyphs">v 5.0</text>
</svg></body></html>
